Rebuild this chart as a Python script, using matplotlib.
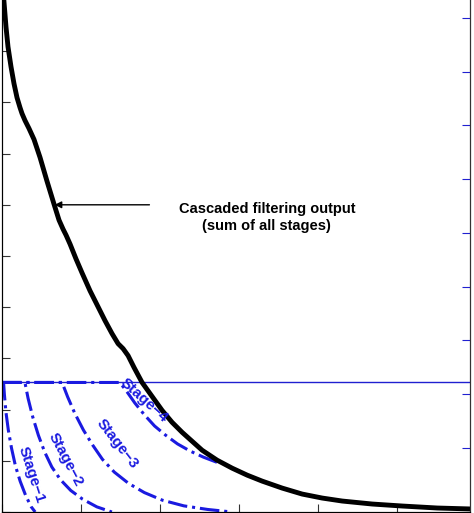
import numpy as np
import matplotlib.pyplot as plt

# black cascaded output in pixel units (x px, y px from top)
out_px = [2, 4, 6, 9, 12, 15, 18, 20, 23, 27, 32, 38, 45, 52, 57, 61, 64, 68, 74, 80, 88, 95, 103, 110, 116, 121, 126,
          132, 140, 150, 160, 170, 180, 190, 200, 215, 230, 245, 260, 280, 300, 320, 340, 370, 400, 435, 470]
out_py = [0, 25, 45, 65, 82, 96, 106, 112, 119, 127, 138, 156, 180, 203, 219, 228, 234, 243, 258, 272, 290, 304, 320, 333,
          343, 348, 355, 367, 382, 396, 410, 422, 432, 441, 450, 460, 468, 475, 481, 488, 494, 498, 501, 504, 506, 508, 509]
out_x = [p / 79 for p in out_px]
out_y = [(512 - p) / 51.4 for p in out_py]

level = 2.53
stage_x = [
    [0.0, 0.02, 0.03, 0.05, 0.08, 0.12, 0.17, 0.23, 0.3, 0.37, 0.42],
    [0.0, 0.29, 0.33, 0.39, 0.46, 0.54, 0.63, 0.74, 0.87, 1.02, 1.2, 1.39],
    [0.0, 0.76, 0.83, 0.92, 1.03, 1.15, 1.27, 1.42, 1.6, 1.8, 2.03, 2.3, 2.6, 2.91],
    [0.0, 1.49, 1.58, 1.68, 1.8, 1.93, 2.07, 2.22, 2.38, 2.55, 2.72],
]
stage_y = [
    [2.53, 2.53, 2.3, 1.95, 1.6, 1.25, 0.9, 0.6, 0.32, 0.1, 0.0],
    [2.53, 2.53, 2.22, 1.85, 1.5, 1.17, 0.88, 0.63, 0.42, 0.25, 0.1, 0.0],
    [2.53, 2.53, 2.25, 1.93, 1.6, 1.3, 1.03, 0.78, 0.56, 0.38, 0.23, 0.12, 0.05, 0.0],
    [2.53, 2.53, 2.35, 2.13, 1.9, 1.68, 1.5, 1.33, 1.19, 1.07, 0.97],
]
stage_labels = ["Stage\u22121", "Stage\u22122", "Stage\u22123", "Stage\u22124"]
label_pos = [(0.37, 0.72, -72), (0.8, 1.02, -62), (1.46, 1.33, -52), (1.8, 2.18, -42)]

fig = plt.figure(figsize=(4.74, 5.13), dpi=100)
ax = fig.add_axes([2/474, 1/513, 468/474, 512/513])
ax.set_xlim(0, 5.92)
ax.set_ylim(0, 10.0)

ax.axhline(level, color='#2020d0', lw=1)
for xs, ys in zip(stage_x, stage_y):
    ax.plot(xs, ys, color='#1a1ae0', lw=2.2, ls='-.')
for (lx, ly, rot), lab in zip(label_pos, stage_labels):
    ax.text(lx, ly, lab, color='#1a1ae0', fontsize=11, fontweight='bold',
            rotation=rot, ha='center', va='center', family='Liberation Sans')
ax.plot(out_x, out_y, color='black', lw=3.5, solid_joinstyle='round')

ax.annotate('', xy=(0.63, 6.0), xytext=(1.9, 6.0),
            arrowprops=dict(arrowstyle='-|>', color='black', lw=1))
ax.text(3.35, 5.75, 'Cascaded filtering output\n(sum of all stages)', ha='center', va='center',
        fontsize=10.5, fontweight='bold', family='Liberation Sans')

ax.set_xticks(np.arange(0, 6, 1.0))
ax.set_yticks(np.arange(0, 10, 1.0))
ax.tick_params(direction='in', length=6, labelbottom=False, labelleft=False, colors='#333333')
ax.spines['top'].set_visible(False)
ax2 = ax.twinx()
ax2.set_ylim(0, 10.0)
ax2.set_yticks([1.25, 2.3, 3.35, 4.4, 5.45, 6.5, 7.55, 8.6, 9.65])
ax2.tick_params(direction='in', length=6, labelright=False, colors='#2020d0')
ax2.spines['top'].set_visible(False)
ax2.spines['right'].set_color('#333333')

fig.savefig('out.png', dpi=100)
